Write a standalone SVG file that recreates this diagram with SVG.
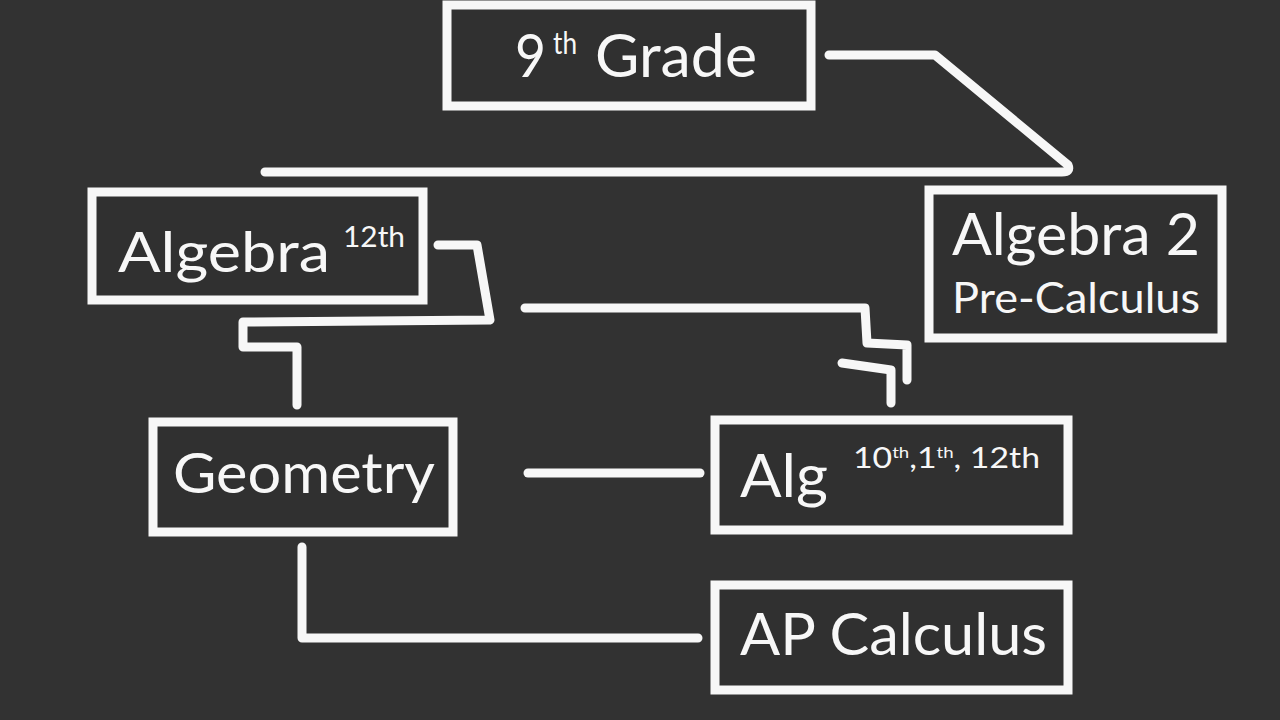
<svg xmlns="http://www.w3.org/2000/svg" width="1280" height="720" viewBox="0 0 1280 720">
<style>
.box{fill:#303030;stroke:#f7f7f7;stroke-width:9}
.ln{fill:none;stroke:#f7f7f7;stroke-width:9;stroke-linecap:round;stroke-linejoin:round}
text{font-family:Lato,"Noto Sans","Liberation Sans",sans-serif;fill:#f7f7f7}
</style>
<rect width="1280" height="720" fill="#323232"/>
<g id="connectors">
<path class="ln" d="M829,55 L935,55 L1068,165 Q1071,172 1062,172 L265,172"/>
<path class="ln" d="M438,245 L477,245 L490,320 L243,322 L243,347 L297,347 L297,405"/>
<path class="ln" d="M525,308 L865,308 L867,343 L907,345 L907,380"/>
<path class="ln" d="M842,363 L891,370 L891,403"/>
<path class="ln" d="M528,473 L700,473"/>
<path class="ln" d="M302,547 L302,638 L698,638"/>
</g>
<g id="n9th">
<rect class="box" x="447" y="5" width="364" height="101"/>
<text x="515" y="77" font-size="60" textLength="31" lengthAdjust="spacingAndGlyphs">9</text>
<text x="553" y="54" font-size="30" textLength="24" lengthAdjust="spacingAndGlyphs">th</text>
<text x="595" y="77" font-size="60" textLength="162" lengthAdjust="spacingAndGlyphs">Grade</text>
</g>
<g id="algebra2">
<rect class="box" x="929" y="190" width="293" height="148"/>
<text x="952" y="255" font-size="58" textLength="248" lengthAdjust="spacingAndGlyphs">Algebra 2</text>
<text x="952" y="313" font-size="43" textLength="248" lengthAdjust="spacingAndGlyphs">Pre-Calculus</text>
</g>
<g id="algebra">
<rect class="box" x="92" y="192" width="331" height="108"/>
<text x="118" y="272" font-size="56" textLength="212" lengthAdjust="spacingAndGlyphs">Algebra</text>
<text x="343" y="247" font-size="28" textLength="62" lengthAdjust="spacingAndGlyphs">12th</text>
</g>
<g id="geometry">
<rect class="box" x="153" y="422" width="300" height="110"/>
<text x="173" y="493" font-size="56" textLength="262" lengthAdjust="spacingAndGlyphs">Geometry</text>
</g>
<g id="alg">
<rect class="box" x="715" y="420" width="353" height="110"/>
<text x="740" y="497" font-size="60" textLength="88" lengthAdjust="spacingAndGlyphs">Alg</text>
<text x="853" y="468" font-size="29" textLength="187" lengthAdjust="spacingAndGlyphs">10<tspan font-size="16" dy="-10">th</tspan><tspan dy="10">,1</tspan><tspan font-size="16" dy="-10">th</tspan><tspan dy="10">, 12th</tspan></text>
</g>
<g id="apcalc">
<rect class="box" x="715" y="585" width="353" height="105"/>
<text x="740" y="655" font-size="58" textLength="307" lengthAdjust="spacingAndGlyphs">AP Calculus</text>
</g>
</svg>
